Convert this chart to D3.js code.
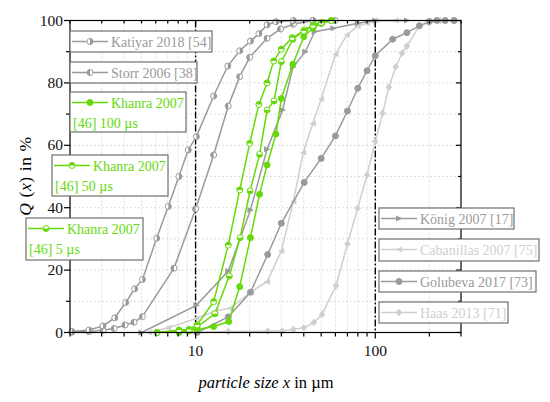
<!DOCTYPE html>
<html>
<head>
<meta charset="utf-8">
<script src="https://cdn.jsdelivr.net/npm/d3@7"></script>
<style>
  body { margin: 0; background: #fff; }
  svg { font-family: 'Liberation Serif', 'DejaVu Serif', serif; }
  .grid line { stroke: #d4d4d4; stroke-dasharray: 2,2; stroke-width: 0.8; }
  .tick-lbl { font-size: 15.5px; fill: #111; }
  .leg-txt { font-size: 14px; }
</style>
</head>
<body>
<svg id="chart"></svg>
<script>
// values: [particle size in µm, Q in %]
const katiyar = [[2.05,0.3],[2.55,0.8],[3.05,2.1],[3.55,4.7],[4.08,9.6],[4.58,14],[5.06,17],[6.07,30.2],[7.05,40.4],[8.07,50],[9.1,58.5],[10.1,62.8],[12.6,75.8],[15.1,85.4],[17.6,90.3],[20.2,93.4],[22.5,95.8],[25,98.6],[28,99.6],[35,100],[45,100]]
const storr = [[2.05,0.1],[2.55,0.3],[3.05,0.7],[3.52,1.3],[4.05,2.4],[4.55,3.3],[5.06,5.1],[7.58,20.6],[10,39.6],[12.6,56.9],[15.2,72.6],[17.6,82],[20,88.2],[25,94.3],[29.7,97.3],[35,98.8],[45,100],[60,100]]
const khanra100 = [[6.1,0],[8.1,0.5],[9.2,0.8],[10.2,1],[12.6,1.9],[15.3,3.5],[17.6,14.7],[20.2,30.4],[22.7,44.3],[25,53.7],[28,63.6],[30,75],[34.8,86],[40,94.8],[45,97.5],[50,99],[57,100]]
const khanra50 = [[6.1,0],[8.1,0.8],[9.2,1],[10.2,2.4],[12.6,9.9],[15.2,28],[17.6,45.7],[20,60.6],[22.5,73.1],[25,80],[27.2,87],[30,90.8],[34.5,94.5],[40,96.6],[45,98.4],[50,99.3],[57,100]]
const khanra5 = [[8.1,0],[9.2,0.5],[10.2,1.8],[12.8,6],[15.4,18.1],[17.7,30.4],[20.1,45.4],[22.7,57.1],[25,71.3],[27.3,74.2],[30,86.8],[34.8,94],[40.5,97],[45.5,98.6],[50.5,99.4],[57,100]]
const koenig = [[5,0],[10.1,8.7],[15.2,19.7],[20.2,39.3],[25,58.7],[30.5,71.3],[34.8,85],[40.8,90],[46,96.4],[58.5,97.5],[80,99.1],[100,100],[150,100]]
const cabanillas = [[5.5,0],[7.05,1.5],[10.1,4.5],[12.9,6.9],[15.6,7.8],[20.2,12.9],[25,16.3],[30,26.1],[35,42],[39.7,57.6],[44.9,67],[50,74.8],[60,89.2],[69.6,95.4],[79.7,98.2],[90,99.1],[100,100],[130,100]]
const golubeva = [[10.2,0],[15.2,5],[20.2,12.9],[25.2,25],[30,35],[40.2,48.1],[50,55.8],[60,63],[70,71],[80,78.3],[90,83.9],[100,88.7],[125,94],[150,96.1],[176,98.3],[200,99.7],[220,100],[245,100],[275,100]]
const haas = [[10,0],[15.2,0.3],[25.2,0.5],[30.3,0.5],[35,1],[40,1.5],[45.5,3.2],[50.5,5.8],[60.5,15],[70,28.4],[79.8,39.8],[90,50.5],[100,61.2],[110,70.3],[119,78.6],[130,85.2],[141,89.5],[150,91.8],[176,98.3],[198,99.3],[230,100],[270,100]]

const xTickValues = [10, 100]
const yTickValues = [0, 20, 40, 60, 80, 100]

const leftLegend = [
  { name: 'Katiyar 2018 [54]', sub: null },
  { name: 'Storr 2006 [38]', sub: null },
  { name: 'Khanra 2007', sub: '[46] 100 µs' },
  { name: 'Khanra 2007', sub: '[46] 50 µs' },
  { name: 'Khanra 2007', sub: '[46] 5 µs' }
]
const rightLegend = ['König 2007 [17]', 'Cabanillas 2007 [75]', 'Golubeva 2017 [73]', 'Haas 2013 [71]']

const GREEN = '#66d90a'
const DARK = '#9a9a9a'
const LIGHT = '#cfcfcf'

const series = [
  { data: haas, color: LIGHT, marker: 'diamond' },
  { data: cabanillas, color: LIGHT, marker: 'triL' },
  { data: golubeva, color: DARK, marker: 'filled' },
  { data: koenig, color: DARK, marker: 'triR' },
  { data: storr, color: DARK, marker: 'halfL' },
  { data: katiyar, color: DARK, marker: 'halfR' },
  { data: khanra100, color: GREEN, marker: 'filled' },
  { data: khanra5, color: GREEN, marker: 'halfB' },
  { data: khanra50, color: GREEN, marker: 'halfT' }
]

const width = 550
const height = 402
const plot = { left: 70, right: 461, top: 20.5, bottom: 332.5 }

const svg = d3.select('#chart')
  .attr('width', width)
  .attr('height', height)

const xScale = d3.scaleLog()
  .domain([2, 300])
  .range([plot.left, plot.right])

const yScale = d3.scaleLinear()
  .domain([0, 100])
  .range([plot.bottom, plot.top])

// minor log positions
const minorX = []
;[1, 10, 100].forEach(dec => {
  for (let k = 2; k <= 9; k++) {
    const v = dec * k
    if (v >= 2 && v <= 300) minorX.push(v)
  }
})
const gridY = d3.range(10, 100, 10)

const grid = svg.append('g').attr('class', 'grid')
grid.selectAll('.gx')
  .data(minorX.filter(v => v > 2 && v < 300))
  .enter()
  .append('line')
  .attr('x1', d => xScale(d)).attr('x2', d => xScale(d))
  .attr('y1', plot.top).attr('y2', plot.bottom)
grid.selectAll('.gy')
  .data(gridY)
  .enter()
  .append('line')
  .attr('x1', plot.left).attr('x2', plot.right)
  .attr('y1', d => yScale(d)).attr('y2', d => yScale(d))

// dash-dot reference lines at 10 and 100 µm
svg.selectAll('.ref')
  .data(xTickValues)
  .enter()
  .append('line')
  .attr('x1', d => xScale(d)).attr('x2', d => xScale(d))
  .attr('y1', plot.top).attr('y2', plot.bottom)
  .attr('stroke', '#000')
  .attr('stroke-width', 1.4)
  .attr('stroke-dasharray', '7,2,2,2')

// markers
const drawMarker = (g, type, color, r) => {
  if (type === 'filled') {
    g.append('circle').attr('r', r).attr('fill', color).attr('stroke', color)
  } else if (type.startsWith('half')) {
    g.append('circle').attr('r', r).attr('fill', '#fff').attr('stroke', color).attr('stroke-width', 1)
    const arc = d3.arc().innerRadius(0).outerRadius(r)
    const ang = { halfR: [0, Math.PI], halfL: [Math.PI, 2 * Math.PI], halfB: [Math.PI / 2, 3 * Math.PI / 2], halfT: [-Math.PI / 2, Math.PI / 2] }[type]
    g.append('path').attr('d', arc({ startAngle: ang[0], endAngle: ang[1] })).attr('fill', color)
  } else if (type === 'triR') {
    g.append('path').attr('d', `M${-r},${-r} L${r + 0.5},0 L${-r},${r} Z`).attr('fill', color)
  } else if (type === 'triL') {
    g.append('path').attr('d', `M${r},${-r} L${-r - 0.5},0 L${r},${r} Z`).attr('fill', color)
  } else if (type === 'diamond') {
    g.append('path').attr('d', `M0,${-r - 0.8} L${r + 0.3},0 L0,${r + 0.8} L${-r - 0.3},0 Z`).attr('fill', color)
  }
}

const lineGen = d3.line()
  .x(d => xScale(d[0]))
  .y(d => yScale(d[1]))

series.forEach(s => {
  svg.append('path')
    .datum(s.data)
    .attr('d', lineGen)
    .attr('fill', 'none')
    .attr('stroke', s.color)
    .attr('stroke-width', 1.5)
  svg.selectAll(null)
    .data(s.data)
    .enter()
    .append('g')
    .attr('transform', d => `translate(${xScale(d[0])},${yScale(d[1])})`)
    .each(function () { drawMarker(d3.select(this), s.marker, s.color, 3) })
})

// frame
svg.append('rect')
  .attr('x', plot.left).attr('y', plot.top)
  .attr('width', plot.right - plot.left).attr('height', plot.bottom - plot.top)
  .attr('fill', 'none').attr('stroke', '#000').attr('stroke-width', 1.2)

const axes = svg.append('g').attr('stroke', '#000').attr('stroke-width', 1.2)
// bottom (outward) and top (inward)
axes.selectAll('.bx')
  .data(minorX.concat(xTickValues))
  .enter()
  .append('line')
  .attr('x1', d => xScale(d)).attr('x2', d => xScale(d))
  .attr('y1', plot.bottom).attr('y2', d => plot.bottom + (xTickValues.includes(d) ? 6 : 4))
axes.selectAll('.tx')
  .data(minorX.concat(xTickValues))
  .enter()
  .append('line')
  .attr('x1', d => xScale(d)).attr('x2', d => xScale(d))
  .attr('y1', plot.top).attr('y2', d => plot.top + (xTickValues.includes(d) ? 5 : 3))
// left (outward) and right (inward)
const yAll = d3.range(0, 101, 10)
axes.selectAll('.ly')
  .data(yAll)
  .enter()
  .append('line')
  .attr('x1', d => plot.left - (d % 20 === 0 ? 6 : 4)).attr('x2', plot.left)
  .attr('y1', d => yScale(d)).attr('y2', d => yScale(d))
axes.selectAll('.ry')
  .data(yAll)
  .enter()
  .append('line')
  .attr('x1', d => plot.right - (d % 20 === 0 ? 5 : 3)).attr('x2', plot.right)
  .attr('y1', d => yScale(d)).attr('y2', d => yScale(d))

svg.selectAll('.xl')
  .data(xTickValues)
  .enter()
  .append('text')
  .attr('class', 'tick-lbl')
  .attr('x', d => xScale(d))
  .attr('y', plot.bottom + 23)
  .style('text-anchor', 'middle')
  .text(d => d)

svg.selectAll('.yl')
  .data(yTickValues)
  .enter()
  .append('text')
  .attr('class', 'tick-lbl')
  .attr('x', plot.left - 7)
  .attr('y', d => yScale(d) + 5)
  .style('text-anchor', 'end')
  .text(d => d)

// axis titles
const xt = svg.append('text')
  .attr('x', 266).attr('y', 388)
  .style('text-anchor', 'middle')
  .style('font-size', '16.5px')
xt.append('tspan').style('font-style', 'italic').text('particle size x')
xt.append('tspan').text(' in µm')

const yt = svg.append('text')
  .attr('transform', 'translate(31,176) rotate(-90)')
  .style('text-anchor', 'middle')
  .style('font-size', '17.5px')
  .style('letter-spacing', '0.6px')
yt.append('tspan').style('font-style', 'italic').text('Q')
yt.append('tspan').text(' (')
yt.append('tspan').style('font-style', 'italic').text('x')
yt.append('tspan').text(') in %')

// legends
const leftBoxes = [
  { x: 70, y: 31, w: 142, h: 21 },
  { x: 70, y: 62, w: 127, h: 21 },
  { x: 70, y: 92, w: 116, h: 40 },
  { x: 52, y: 155, w: 116, h: 41 },
  { x: 26, y: 218, w: 117, h: 42 }
]
const leftStyles = [series[5], series[4], series[6], series[8], series[7]]

const drawLegend = (box, label, sub, s) => {
  const g = svg.append('g')
  g.append('rect')
    .attr('x', box.x).attr('y', box.y)
    .attr('width', box.w).attr('height', box.h)
    .attr('fill', '#fff').attr('stroke', '#707070').attr('stroke-width', 1.2)
  const cy = box.y + 10.5
  g.append('line')
    .attr('x1', box.x + 2).attr('x2', box.x + 38)
    .attr('y1', cy).attr('y2', cy)
    .attr('stroke', s.color).attr('stroke-width', 1.5)
  const m = g.append('g').attr('transform', `translate(${box.x + 20},${cy})`)
  drawMarker(m, s.marker, s.color, 3)
  g.append('text')
    .attr('class', 'leg-txt')
    .attr('x', box.x + 41).attr('y', cy + 5)
    .attr('fill', s.color)
    .text(label)
  if (sub) {
    g.append('text')
      .attr('class', 'leg-txt')
      .attr('x', box.x + 3).attr('y', cy + 25.5)
      .attr('fill', s.color)
      .text(sub)
  }
}

leftLegend.forEach((l, i) => drawLegend(leftBoxes[i], l.name, l.sub, leftStyles[i]))

const rightBoxes = [
  { x: 379, y: 208, w: 135, h: 21 },
  { x: 379, y: 239, w: 160, h: 22 },
  { x: 379, y: 271, w: 157, h: 21 },
  { x: 379, y: 302, w: 129, h: 21 }
]
const rightStyles = [series[3], series[1], series[2], series[0]]
rightLegend.forEach((l, i) => drawLegend(rightBoxes[i], l, null, rightStyles[i]))
</script>
</body>
</html>
